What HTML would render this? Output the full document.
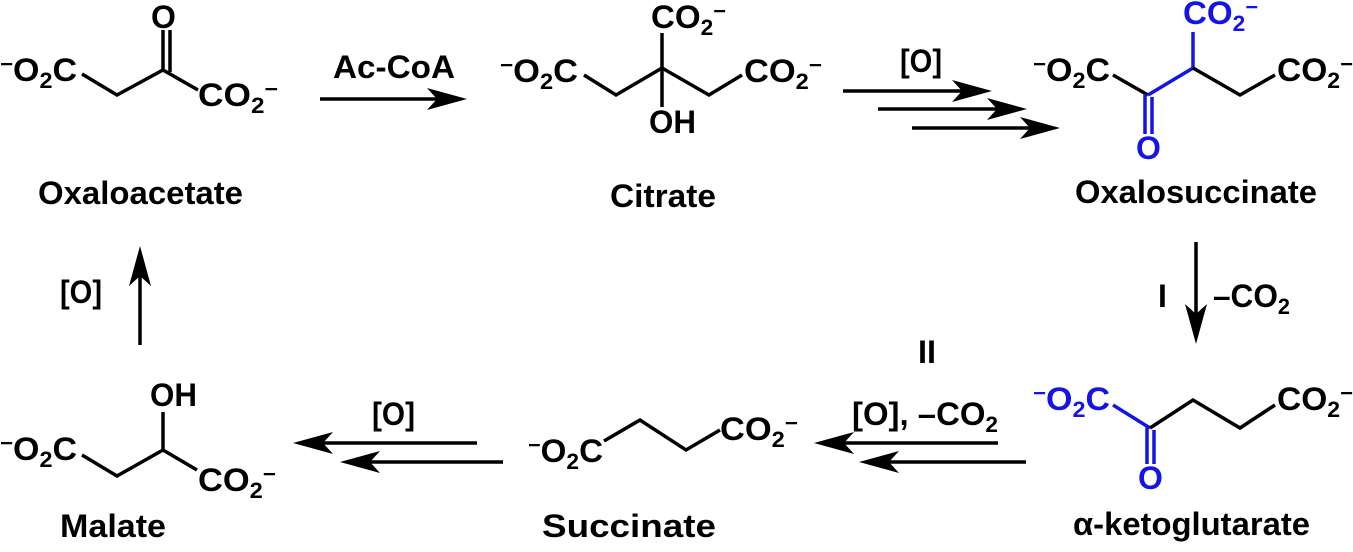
<!DOCTYPE html>
<html><head><meta charset="utf-8"><style>
html,body{margin:0;padding:0;background:#fff;}
svg{display:block;}
text{font-family:"Liberation Sans",Arial,sans-serif;font-weight:bold;font-size:32px;fill:#000;}
.b{fill:#1414e6;}
.l{stroke:#000;stroke-width:3.5;fill:none;stroke-linejoin:miter;}
.bl{stroke:#1414e6;stroke-width:3.5;fill:none;}
.h{fill:#000;}
</style></head><body>
<svg width="1353" height="552" viewBox="0 0 1353 552" xmlns="http://www.w3.org/2000/svg">

<!-- Oxaloacetate -->
<text x="0" y="81" textLength="77" lengthAdjust="spacingAndGlyphs"><tspan font-size="21" dy="-10">−</tspan><tspan dy="10">O</tspan><tspan font-size="22" dy="7">2</tspan><tspan dy="-7">C</tspan></text>
<text x="151" y="28">O</text>
<text x="198" y="106" textLength="80" lengthAdjust="spacingAndGlyphs">CO<tspan font-size="22" dy="7">2</tspan><tspan font-size="21" dy="-17">−</tspan></text>
<polyline class="l" points="82,74 117,95 163,70 198,90"/>
<line class="l" x1="163" y1="30" x2="163" y2="70"/>
<line class="l" x1="170" y1="30" x2="170" y2="72"/>
<text x="38" y="204" textLength="205" lengthAdjust="spacingAndGlyphs">Oxaloacetate</text>

<!-- Ac-CoA arrow -->
<text x="333" y="78" textLength="122" lengthAdjust="spacingAndGlyphs">Ac-CoA</text>
<line class="l" x1="320" y1="99" x2="440" y2="99"/>
<polygon class="h" points="467,99 427,88 437,99 427,110"/>

<!-- Citrate -->
<text x="500" y="82" textLength="78" lengthAdjust="spacingAndGlyphs"><tspan font-size="21" dy="-10">−</tspan><tspan dy="10">O</tspan><tspan font-size="22" dy="7">2</tspan><tspan dy="-7">C</tspan></text>
<polyline class="l" points="584,75 616,95 662,68 709,95 742,75"/>
<line class="l" x1="662" y1="33" x2="662" y2="107"/>
<text x="651" y="28" textLength="75" lengthAdjust="spacingAndGlyphs">CO<tspan font-size="22" dy="7">2</tspan><tspan font-size="21" dy="-17">−</tspan></text>
<text x="649" y="133" textLength="47" lengthAdjust="spacingAndGlyphs">OH</text>
<text x="744" y="82" textLength="78" lengthAdjust="spacingAndGlyphs">CO<tspan font-size="22" dy="7">2</tspan><tspan font-size="21" dy="-17">−</tspan></text>
<text x="610" y="207" textLength="106" lengthAdjust="spacingAndGlyphs">Citrate</text>

<!-- triple [O] arrows -->
<text x="900" y="72" textLength="42" lengthAdjust="spacingAndGlyphs">[O]</text>
<line class="l" x1="843" y1="91" x2="965" y2="91"/>
<polygon class="h" points="992,91 952,80 962,91 952,102"/>
<line class="l" x1="878" y1="109" x2="1000" y2="109"/>
<polygon class="h" points="1027,109 987,98 997,109 987,120"/>
<line class="l" x1="912" y1="128" x2="1033" y2="128"/>
<polygon class="h" points="1060,128 1020,117 1030,128 1020,139"/>

<!-- Oxalosuccinate -->
<text x="1033" y="81" textLength="77" lengthAdjust="spacingAndGlyphs"><tspan font-size="21" dy="-10">−</tspan><tspan dy="10">O</tspan><tspan font-size="22" dy="7">2</tspan><tspan dy="-7">C</tspan></text>
<line class="l" x1="1113" y1="75" x2="1148" y2="95"/>
<line class="bl" x1="1148" y1="95" x2="1193" y2="68"/>
<line class="bl" x1="1193" y1="68" x2="1193" y2="32"/>
<polyline class="l" points="1193,68 1240,95 1275,75"/>
<line class="bl" x1="1145" y1="94" x2="1145" y2="134"/>
<line class="bl" x1="1152" y1="97" x2="1152" y2="134"/>
<text class="b" x="1136" y="159">O</text>
<text class="b" x="1183" y="24" textLength="75" lengthAdjust="spacingAndGlyphs">CO<tspan font-size="22" dy="7">2</tspan><tspan font-size="21" dy="-17">−</tspan></text>
<text x="1277" y="81" textLength="76" lengthAdjust="spacingAndGlyphs">CO<tspan font-size="22" dy="7">2</tspan><tspan font-size="21" dy="-17">−</tspan></text>
<text x="1075" y="203" textLength="242" lengthAdjust="spacingAndGlyphs">Oxalosuccinate</text>

<!-- Down arrow I -->
<line class="l" x1="1196" y1="242" x2="1196" y2="318"/>
<polygon class="h" points="1196,344 1185,304 1196,314 1207,304"/>
<text x="1158" y="307">I</text>
<text x="1213" y="307" textLength="77" lengthAdjust="spacingAndGlyphs">–CO<tspan font-size="22" dy="7">2</tspan></text>

<!-- alpha-ketoglutarate -->
<text class="b" x="1033" y="410" textLength="77" lengthAdjust="spacingAndGlyphs"><tspan font-size="21" dy="-10">−</tspan><tspan dy="10">O</tspan><tspan font-size="22" dy="7">2</tspan><tspan dy="-7">C</tspan></text>
<line class="bl" x1="1113" y1="405" x2="1150" y2="428"/>
<polyline class="l" points="1150,428 1193,400 1240,428 1275,405"/>
<line class="bl" x1="1147" y1="427" x2="1147" y2="464"/>
<line class="bl" x1="1154" y1="430" x2="1154" y2="464"/>
<text class="b" x="1138" y="489">O</text>
<text x="1277" y="410" textLength="76" lengthAdjust="spacingAndGlyphs">CO<tspan font-size="22" dy="7">2</tspan><tspan font-size="21" dy="-17">−</tspan></text>
<text x="1073" y="535" textLength="237" lengthAdjust="spacingAndGlyphs">α-ketoglutarate</text>

<!-- II arrows -->
<text x="918" y="363" textLength="18" lengthAdjust="spacingAndGlyphs">II</text>
<text x="852" y="425" textLength="146" lengthAdjust="spacingAndGlyphs">[O], –CO<tspan font-size="22" dy="7">2</tspan></text>
<line class="l" x1="998" y1="443" x2="840" y2="443"/>
<polygon class="h" points="814,443 854,432 844,443 854,454"/>
<line class="l" x1="1026" y1="462" x2="885" y2="462"/>
<polygon class="h" points="859,462 899,451 889,462 899,473"/>

<!-- Succinate -->
<text x="528" y="462" textLength="75" lengthAdjust="spacingAndGlyphs"><tspan font-size="21" dy="-10">−</tspan><tspan dy="10">O</tspan><tspan font-size="22" dy="7">2</tspan><tspan dy="-7">C</tspan></text>
<polyline class="l" points="604,441 640,420 686,450 720,430"/>
<text x="720" y="440" textLength="78" lengthAdjust="spacingAndGlyphs">CO<tspan font-size="22" dy="7">2</tspan><tspan font-size="21" dy="-17">−</tspan></text>
<text x="542" y="537" textLength="174" lengthAdjust="spacingAndGlyphs">Succinate</text>

<!-- [O] double arrows left -->
<text x="372" y="425" textLength="43" lengthAdjust="spacingAndGlyphs">[O]</text>
<line class="l" x1="477" y1="443" x2="319" y2="443"/>
<polygon class="h" points="293,443 333,432 323,443 333,454"/>
<line class="l" x1="503" y1="462" x2="366" y2="462"/>
<polygon class="h" points="340,462 380,451 370,462 380,473"/>

<!-- Malate -->
<text x="0" y="460" textLength="77" lengthAdjust="spacingAndGlyphs"><tspan font-size="21" dy="-10">−</tspan><tspan dy="10">O</tspan><tspan font-size="22" dy="7">2</tspan><tspan dy="-7">C</tspan></text>
<polyline class="l" points="82,455 117,476 163,450 197,470"/>
<line class="l" x1="163" y1="450" x2="163" y2="412"/>
<text x="150" y="406" textLength="47" lengthAdjust="spacingAndGlyphs">OH</text>
<text x="198" y="491" textLength="78" lengthAdjust="spacingAndGlyphs">CO<tspan font-size="22" dy="7">2</tspan><tspan font-size="21" dy="-17">−</tspan></text>
<text x="60" y="537" textLength="106" lengthAdjust="spacingAndGlyphs">Malate</text>

<!-- Up arrow -->
<line class="l" x1="140" y1="345" x2="140" y2="272"/>
<polygon class="h" points="140,246 129,286 140,276 151,286"/>
<text x="60" y="303" textLength="42" lengthAdjust="spacingAndGlyphs">[O]</text>
</svg>
</body></html>
